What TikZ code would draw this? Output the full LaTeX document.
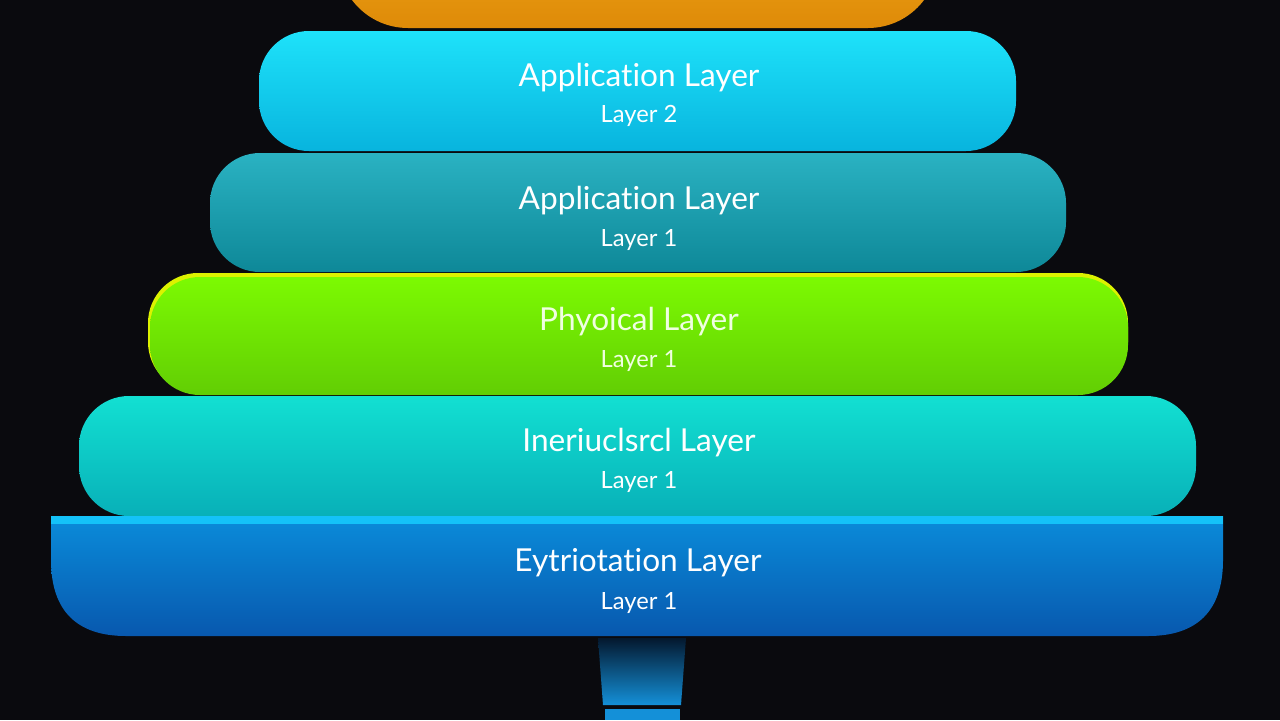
\documentclass[tikz,border=0pt]{standalone}
\usepackage{fontspec}
\setmainfont{Lato}[Ligatures=NoCommon]
\definecolor{bgc}{HTML}{0A0A0E}
\definecolor{orgT}{HTML}{F2AC1C}
\definecolor{orgB}{HTML}{DE8A08}
\definecolor{cyT}{HTML}{1EE2FA}
\definecolor{cyB}{HTML}{08B4DE}
\definecolor{tlT}{HTML}{2AB2C2}
\definecolor{tlB}{HTML}{0E8898}
\definecolor{lmT}{HTML}{7CFA02}
\definecolor{lmB}{HTML}{62CE04}
\definecolor{lmY}{HTML}{DCF200}
\definecolor{tqT}{HTML}{12E0D2}
\definecolor{tqB}{HTML}{08B0B8}
\definecolor{blT}{HTML}{0A8CDA}
\definecolor{blB}{HTML}{0858AE}
\definecolor{blBand}{HTML}{14C2F8}
\definecolor{stT}{HTML}{04182E}
\definecolor{stB}{HTML}{1490D8}
\tikzset{
  title/.style={text=white, font=\fontsize{18}{21}\selectfont, inner sep=0pt, anchor=center},
  sub/.style={text=white, font=\fontsize{13.5}{16}\selectfont, inner sep=0pt, anchor=center},
  stadium/.style={rounded corners=1.0cm}
}
\begin{document}
\begin{tikzpicture}[x=0.02cm,y=-0.02cm]
\useasboundingbox (0,0) rectangle (1280,720);
\fill[bgc] (0,0) rectangle (1280,720);
\begin{scope}
\clip (0,0) rectangle (1280,720);
% orange layer (cut by the top edge)
\shade[top color=orgT, bottom color=orgB, rounded corners=1.4cm] (338,-90) rectangle (938,28);
% application layer 2
\shade[stadium, top color=cyT, bottom color=cyB] (259,31) rectangle (1016,151);
% application layer 1
\shade[stadium, top color=tlT, bottom color=tlB] (210,153) rectangle (1066,272);
% physical layer
\fill[stadium, lmY] (148,273) rectangle (1128,392);
\shade[stadium, top color=lmT, bottom color=lmB] (150,277) rectangle (1128,395);
% turquoise layer
\shade[stadium, top color=tqT, bottom color=tqB] (79,396) rectangle (1196,516);
% bottom blue bowl
\shade[top color=blT, bottom color=blB]
  (51,516) -- (1223,516) -- (1223,560)
  .. controls (1223,612) and (1196,636) .. (1148,636)
  -- (126,636)
  .. controls (78,636) and (51,612) .. (51,560) -- cycle;
\fill[blBand] (51,516) rectangle (1223,524);
% stem
\shade[top color=stT, bottom color=stB] (598,638) -- (686,638) -- (681,705) -- (603,705) -- cycle;
\fill[stB] (605,709) rectangle (680,720);
\end{scope}
% texts
\node[title] (t6) at (639,78) {Application Layer};
\node[sub] (s6) at (639,116) {Layer 2};
\node[title] (t5) at (639,201) {Application Layer};
\node[sub] (s5) at (639,240) {Layer 1};
\node[title, text=white!88!lmT] (t4) at (639,322) {Phyoical Layer};
\node[sub, text=white!88!lmT] (s4) at (639,361) {Layer 1};
\node[title] (t3) at (639,443) {Ineriuclsrcl Layer};
\node[sub] (s3) at (639,482) {Layer 1};
\node[title] (t2) at (638,563) {Eytriotation Layer};
\node[sub] (s2) at (639,603) {Layer 1};
\end{tikzpicture}
\end{document}
